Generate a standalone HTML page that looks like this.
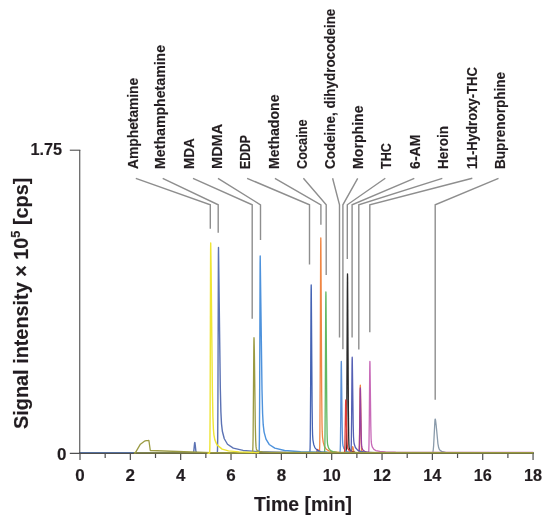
<!DOCTYPE html>
<html><head><meta charset="utf-8"><title>Chromatogram</title>
<style>
html,body{margin:0;padding:0;background:#fff;}
svg{display:block;}
text{font-family:"Liberation Sans",sans-serif;font-weight:bold;fill:#231f20;stroke:#231f20;stroke-width:0.15px;}
.lab text{font-size:14px;}
.tick text{font-size:17px;}
.title{font-size:20.5px;}
</style></head>
<body>
<svg width="550" height="524" viewBox="0 0 550 524">
<defs><filter id="soft" x="0" y="0" width="550" height="524" filterUnits="userSpaceOnUse"><feGaussianBlur stdDeviation="0.35"/></filter></defs>
<rect width="550" height="524" fill="#fff"/>
<g filter="url(#soft)">
<g class="lab">
<text transform="translate(137.7,168.9) rotate(-90)" textLength="91.1" lengthAdjust="spacingAndGlyphs">Amphetamine</text>
<text transform="translate(165.3,168.9) rotate(-90)" textLength="124.0" lengthAdjust="spacingAndGlyphs">Methamphetamine</text>
<text transform="translate(193.7,168.9) rotate(-90)" textLength="30.7" lengthAdjust="spacingAndGlyphs">MDA</text>
<text transform="translate(221.7,168.9) rotate(-90)" textLength="45.0" lengthAdjust="spacingAndGlyphs">MDMA</text>
<text transform="translate(250.1,168.9) rotate(-90)" textLength="33.8" lengthAdjust="spacingAndGlyphs">EDDP</text>
<text transform="translate(278.7,168.9) rotate(-90)" textLength="74.4" lengthAdjust="spacingAndGlyphs">Methadone</text>
<text transform="translate(306.7,168.9) rotate(-90)" textLength="49.4" lengthAdjust="spacingAndGlyphs">Cocaine</text>
<text transform="translate(334.7,168.9) rotate(-90)" textLength="160.2" lengthAdjust="spacingAndGlyphs">Codeine, dihydrocodeine</text>
<text transform="translate(363.1,168.9) rotate(-90)" textLength="63.4" lengthAdjust="spacingAndGlyphs">Morphine</text>
<text transform="translate(391.1,168.9) rotate(-90)" textLength="25.8" lengthAdjust="spacingAndGlyphs">THC</text>
<text transform="translate(419.5,168.9) rotate(-90)" textLength="34.2" lengthAdjust="spacingAndGlyphs">6-AM</text>
<text transform="translate(448.1,168.9) rotate(-90)" textLength="42.8" lengthAdjust="spacingAndGlyphs">Heroin</text>
<text transform="translate(476.6,168.9) rotate(-90)" textLength="101.9" lengthAdjust="spacingAndGlyphs">11-Hydroxy-THC</text>
<text transform="translate(505.1,168.9) rotate(-90)" textLength="96.9" lengthAdjust="spacingAndGlyphs">Buprenorphine</text>
</g>
<g fill="none" stroke="#8e8e8e" stroke-width="1.4">
<path d="M135.8,178.3 L210.3,204.8 L210.3,228.7"/>
<path d="M162.7,178.3 L218.2,204.8 L218.2,232.8"/>
<path d="M193.0,178.3 L252.2,204.8 L252.2,318.7"/>
<path d="M218.0,178.3 L260.5,204.8 L260.5,240.0"/>
<path d="M247.1,178.3 L309.5,204.8 L309.5,264.6"/>
<path d="M274.9,178.3 L320.9,204.8 L320.9,224.8"/>
<path d="M303.4,178.3 L326.2,204.8 L326.2,275.0"/>
<path d="M332.6,178.3 L339.5,204.8 L339.5,337.5"/>
<path d="M357.7,178.3 L342.9,204.8 L342.9,349.2"/>
<path d="M385.3,178.3 L347.3,204.8 L347.3,259.0"/>
<path d="M414.3,178.3 L352.1,204.8 L352.1,337.5"/>
<path d="M442.3,178.3 L358.8,204.8 L358.8,349.6"/>
<path d="M472.3,178.3 L369.8,204.8 L369.8,332.2"/>
<path d="M498.5,178.3 L435.2,204.8 L435.2,399.7"/>
</g>
<g fill="none" stroke-linejoin="round" stroke-linecap="round">
<path d="M80.00,453.20 L428.30,453.20 L431.90,453.16 L432.30,453.01 L432.60,452.67 L432.90,451.90 L433.20,450.31 L433.60,446.18 L434.90,420.94 L435.10,419.31 L435.20,419.10 L435.30,419.19 L435.50,419.83 L436.20,425.54 L437.90,443.53 L438.70,447.78 L439.50,449.76 L441.60,451.38 L445.50,452.30 L451.20,452.75 L461.40,453.00 L533.00,453.18" stroke="#8a9bab" stroke-width="1.3"/>
<path d="M300.00,453.20 L364.80,453.19 L368.20,453.11 L368.40,452.97 L368.50,452.77 L368.60,452.36 L368.80,450.14 L369.00,443.87 L369.30,420.03 L369.70,371.18 L369.80,363.90 L369.90,361.33 L370.00,363.16 L370.80,425.98 L371.10,438.19 L371.30,441.93 L371.60,444.53 L372.40,447.22 L373.90,449.38 L375.80,450.52 L379.80,451.44 L385.60,451.88 L395.70,452.12 L533.00,452.34" stroke="#c86ab8" stroke-width="1.3"/>
<path d="M80.00,453.20 L314.90,453.20 L319.10,453.14 L319.20,453.05 L319.30,452.83 L319.40,452.37 L319.50,451.41 L319.70,446.22 L319.90,431.52 L320.20,375.56 L320.60,260.89 L320.70,243.82 L320.80,237.80 L320.90,242.11 L321.70,393.64 L322.00,422.74 L322.20,431.39 L322.50,437.12 L323.20,442.15 L324.40,446.29 L326.30,449.20 L329.00,450.90 L333.90,452.02 L341.40,452.59 L350.30,452.84 L351.10,452.79 L351.30,452.65 L351.50,452.31 L351.80,451.15 L352.40,447.16 L352.50,446.80 L352.60,446.68 L352.70,446.75 L352.90,447.23 L353.90,451.80 L354.30,452.58 L354.60,452.81 L355.20,452.91 L358.60,452.90 L358.80,452.69 L359.00,451.91 L359.20,449.54 L359.40,443.79 L360.10,391.54 L360.20,386.82 L360.30,385.17 L360.40,386.51 L361.20,439.56 L361.40,446.95 L361.60,450.67 L361.80,452.23 L362.00,452.77 L362.20,452.94 L362.40,452.98 L533.00,453.18" stroke="#f08642" stroke-width="1.3"/>
<path d="M80.00,453.20 L355.40,453.20 L358.70,453.15 L358.90,452.95 L359.00,452.66 L359.20,451.09 L359.40,446.64 L359.70,429.70 L360.10,394.99 L360.20,389.82 L360.30,388.00 L360.40,389.32 L361.20,434.78 L361.50,443.55 L361.70,446.20 L362.00,448.00 L362.90,449.94 L365.20,451.71 L368.20,452.43 L373.40,452.83 L382.90,453.03 L533.00,453.19" stroke="#9a3f9e" stroke-width="1.3"/>
<path d="M80.00,453.20 L339.20,453.20 L345.80,453.15 L345.90,453.07 L346.00,452.90 L346.10,452.51 L346.20,451.71 L346.40,447.39 L346.60,435.14 L346.90,388.54 L347.30,293.03 L347.40,278.81 L347.50,273.80 L347.60,277.38 L348.40,412.39 L348.70,437.36 L348.90,444.14 L349.10,447.07 L349.30,448.34 L350.00,449.92 L352.30,451.73 L355.30,452.44 L359.60,452.80 L367.40,453.01 L533.00,453.19" stroke="#2a2a2a" stroke-width="1.3"/>
<path d="M80.00,453.20 L339.20,453.20 L339.70,453.14 L339.80,453.04 L339.90,452.85 L340.00,452.44 L340.20,450.23 L340.40,443.96 L340.70,420.11 L341.10,371.24 L341.20,363.97 L341.30,361.40 L341.40,363.26 L342.20,427.27 L342.50,439.62 L342.70,443.34 L343.00,445.87 L343.80,448.40 L345.40,450.55 L347.10,451.53 L350.60,452.34 L356.40,452.77 L365.00,452.98 L533.00,453.19" stroke="#5a8fd6" stroke-width="1.3"/>
<path d="M80.00,453.20 L314.90,453.20 L316.20,453.12 L316.50,452.86 L316.80,452.14 L317.40,449.69 L317.50,449.48 L317.60,449.40 L317.80,449.55 L318.90,452.52 L319.30,453.00 L319.70,453.16 L320.40,453.20 L344.10,453.16 L344.30,452.99 L344.50,452.38 L344.70,450.51 L344.90,445.97 L345.60,404.82 L345.70,401.10 L345.80,399.80 L345.90,400.63 L346.20,409.73 L346.90,438.23 L347.20,444.26 L347.50,447.13 L347.90,448.74 L349.20,450.65 L350.90,451.68 L354.20,452.43 L359.70,452.83 L369.80,453.03 L533.00,453.19" stroke="#e03a36" stroke-width="1.3"/>
<path d="M80.00,453.20 L350.50,453.17 L350.70,453.04 L350.80,452.83 L350.90,452.40 L351.10,450.09 L351.30,443.54 L351.60,418.60 L352.00,367.49 L352.10,359.88 L352.20,357.20 L352.30,358.96 L353.20,424.64 L353.50,436.17 L353.80,441.27 L354.20,444.04 L355.40,447.46 L357.60,450.05 L360.70,451.42 L365.60,452.23 L374.30,452.71 L388.70,452.95 L533.00,453.17" stroke="#5560b4" stroke-width="1.3"/>
<path d="M80.00,453.20 L323.00,453.20 L324.20,453.16 L324.40,452.93 L324.50,452.58 L324.60,451.86 L324.80,447.98 L325.00,436.97 L325.30,395.10 L325.70,309.28 L325.80,296.51 L325.90,292.00 L326.00,295.28 L326.80,412.08 L327.10,434.13 L327.30,440.46 L327.50,443.49 L327.80,445.56 L328.80,448.46 L330.60,450.62 L332.90,451.70 L337.00,452.43 L343.80,452.81 L355.50,453.02 L533.00,453.19" stroke="#62b862" stroke-width="1.3"/>
<path d="M80.00,453.20 L306.80,453.20 L309.50,453.15 L309.60,453.08 L309.70,452.91 L309.80,452.55 L309.90,451.80 L310.10,447.75 L310.30,436.27 L310.60,392.57 L311.00,303.03 L311.10,289.70 L311.20,285.00 L311.30,288.41 L312.10,405.69 L312.40,428.31 L312.60,435.14 L312.90,439.78 L313.70,444.41 L315.00,447.86 L317.40,450.41 L321.30,451.80 L327.40,452.49 L336.40,452.83 L354.50,453.04 L533.00,453.19" stroke="#4463b4" stroke-width="1.3"/>
<path d="M80.00,453.20 L258.70,453.18 L258.80,453.13 L258.90,453.00 L259.00,452.65 L259.10,451.79 L259.20,449.87 L259.40,438.73 L259.60,407.83 L260.10,263.89 L260.20,256.00 L262.00,389.85 L262.60,413.42 L263.20,424.67 L264.10,432.06 L266.00,439.13 L269.20,444.48 L274.80,448.19 L284.60,450.47 L300.60,451.71 L328.50,452.42 L533.00,453.06" stroke="#4d92dc" stroke-width="1.4"/>
<path d="M80.00,453.20 L185.30,453.20 L193.00,453.15 L193.30,452.94 L193.50,452.55 L193.80,451.15 L194.60,443.18 L194.70,442.68 L194.80,442.50 L194.90,442.65 L195.10,443.76 L195.90,451.21 L196.20,452.50 L196.50,453.01 L196.70,453.13 L196.90,453.18 L217.00,453.18 L217.10,453.13 L217.20,452.99 L217.30,452.62 L217.40,451.73 L217.50,449.73 L217.70,438.11 L217.90,405.88 L218.40,255.73 L218.50,247.50 L220.30,387.57 L220.90,412.12 L221.50,423.81 L222.40,431.47 L224.30,438.75 L227.50,444.26 L233.30,448.15 L243.10,450.43 L259.00,451.68 L286.40,452.39 L533.00,453.08" stroke="#5b72b4" stroke-width="1.4"/>
</g>
<g fill="none" stroke="#4f4f4f" stroke-width="1.1">
<path d="M79.75,150 V453.5"/>
<path d="M69.8,150.2 H80.3"/>
<path d="M69.8,453.4 H533.3" stroke-width="1.3"/>
<path d="M80.00,453 V460 M105.17,453 V458 M130.34,453 V460 M155.51,453 V458 M180.68,453 V460 M205.85,453 V458 M231.02,453 V460 M256.19,453 V458 M281.36,453 V460 M306.53,453 V458 M331.70,453 V460 M356.87,453 V458 M382.04,453 V460 M407.21,453 V458 M432.38,453 V460 M457.55,453 V458 M482.72,453 V460 M507.89,453 V458 M533.06,453 V460" stroke-width="1.2"/>
</g>
<g fill="none" stroke-linejoin="round" stroke-linecap="round">
<path d="M134.5,452.95 H533" stroke="#8a8a38" stroke-width="1.3"/>
<path d="M134.50,452.90 L135.30,452.90 L140.40,444.15 L144.40,441.20 L146.30,440.67 L147.50,440.53 L148.90,440.50 L150.30,450.50 L211.20,452.61 L226.30,452.81 L249.00,452.89 L252.20,452.85 L252.40,452.69 L252.50,452.45 L252.70,451.12 L252.90,447.09 L253.10,437.30 L253.80,348.53 L253.90,340.50 L254.00,337.69 L254.10,339.12 L254.40,354.13 L255.30,424.65 L255.70,440.64 L256.00,446.16 L256.30,448.64 L256.60,449.70 L257.20,450.50 L259.20,451.38 L262.60,451.95 L269.00,452.29 L280.30,452.46 L533.00,452.59" stroke="#9a9a42" stroke-width="1.3"/>
<path d="M208.00,453.20 L209.30,453.19 L209.40,453.15 L209.50,453.01 L209.60,452.63 L209.70,451.61 L209.80,449.17 L209.90,443.96 L210.10,416.96 L210.60,253.02 L210.70,243.00 L211.10,269.69 L212.40,391.88 L212.90,416.69 L213.40,429.06 L213.90,434.87 L214.90,440.02 L217.00,444.90 L222.10,449.14 L228.50,450.88 L238.90,451.91 L256.10,452.50 L258.60,452.55" stroke="#efe535" stroke-width="1.4"/>
</g>
<g class="tick">
<text x="75.28" y="480.7">0</text>
<text x="125.62" y="480.7">2</text>
<text x="175.96" y="480.7">4</text>
<text x="226.30" y="480.7">6</text>
<text x="276.63" y="480.7">8</text>
<text x="322.65" y="480.7" textLength="18.1" lengthAdjust="spacingAndGlyphs">10</text>
<text x="372.99" y="480.7" textLength="18.1" lengthAdjust="spacingAndGlyphs">12</text>
<text x="423.33" y="480.7" textLength="18.1" lengthAdjust="spacingAndGlyphs">14</text>
<text x="473.67" y="480.7" textLength="18.1" lengthAdjust="spacingAndGlyphs">16</text>
<text x="524.01" y="480.7" textLength="18.1" lengthAdjust="spacingAndGlyphs">18</text>
<text x="66.5" y="460.2" text-anchor="end">0</text>
<text x="30.4" y="155.4" textLength="31.7" lengthAdjust="spacingAndGlyphs">1.75</text>
</g>
<text class="title" x="303" y="511.3" text-anchor="middle" textLength="98" lengthAdjust="spacingAndGlyphs">Time [min]</text>
<text class="title" transform="translate(27.5,428.9) rotate(-90)" textLength="251.2" lengthAdjust="spacingAndGlyphs">Signal intensity × 10<tspan font-size="13" dy="-7.3">5</tspan><tspan dy="7.3"> [cps]</tspan></text>
</g>
</svg>
</body></html>
